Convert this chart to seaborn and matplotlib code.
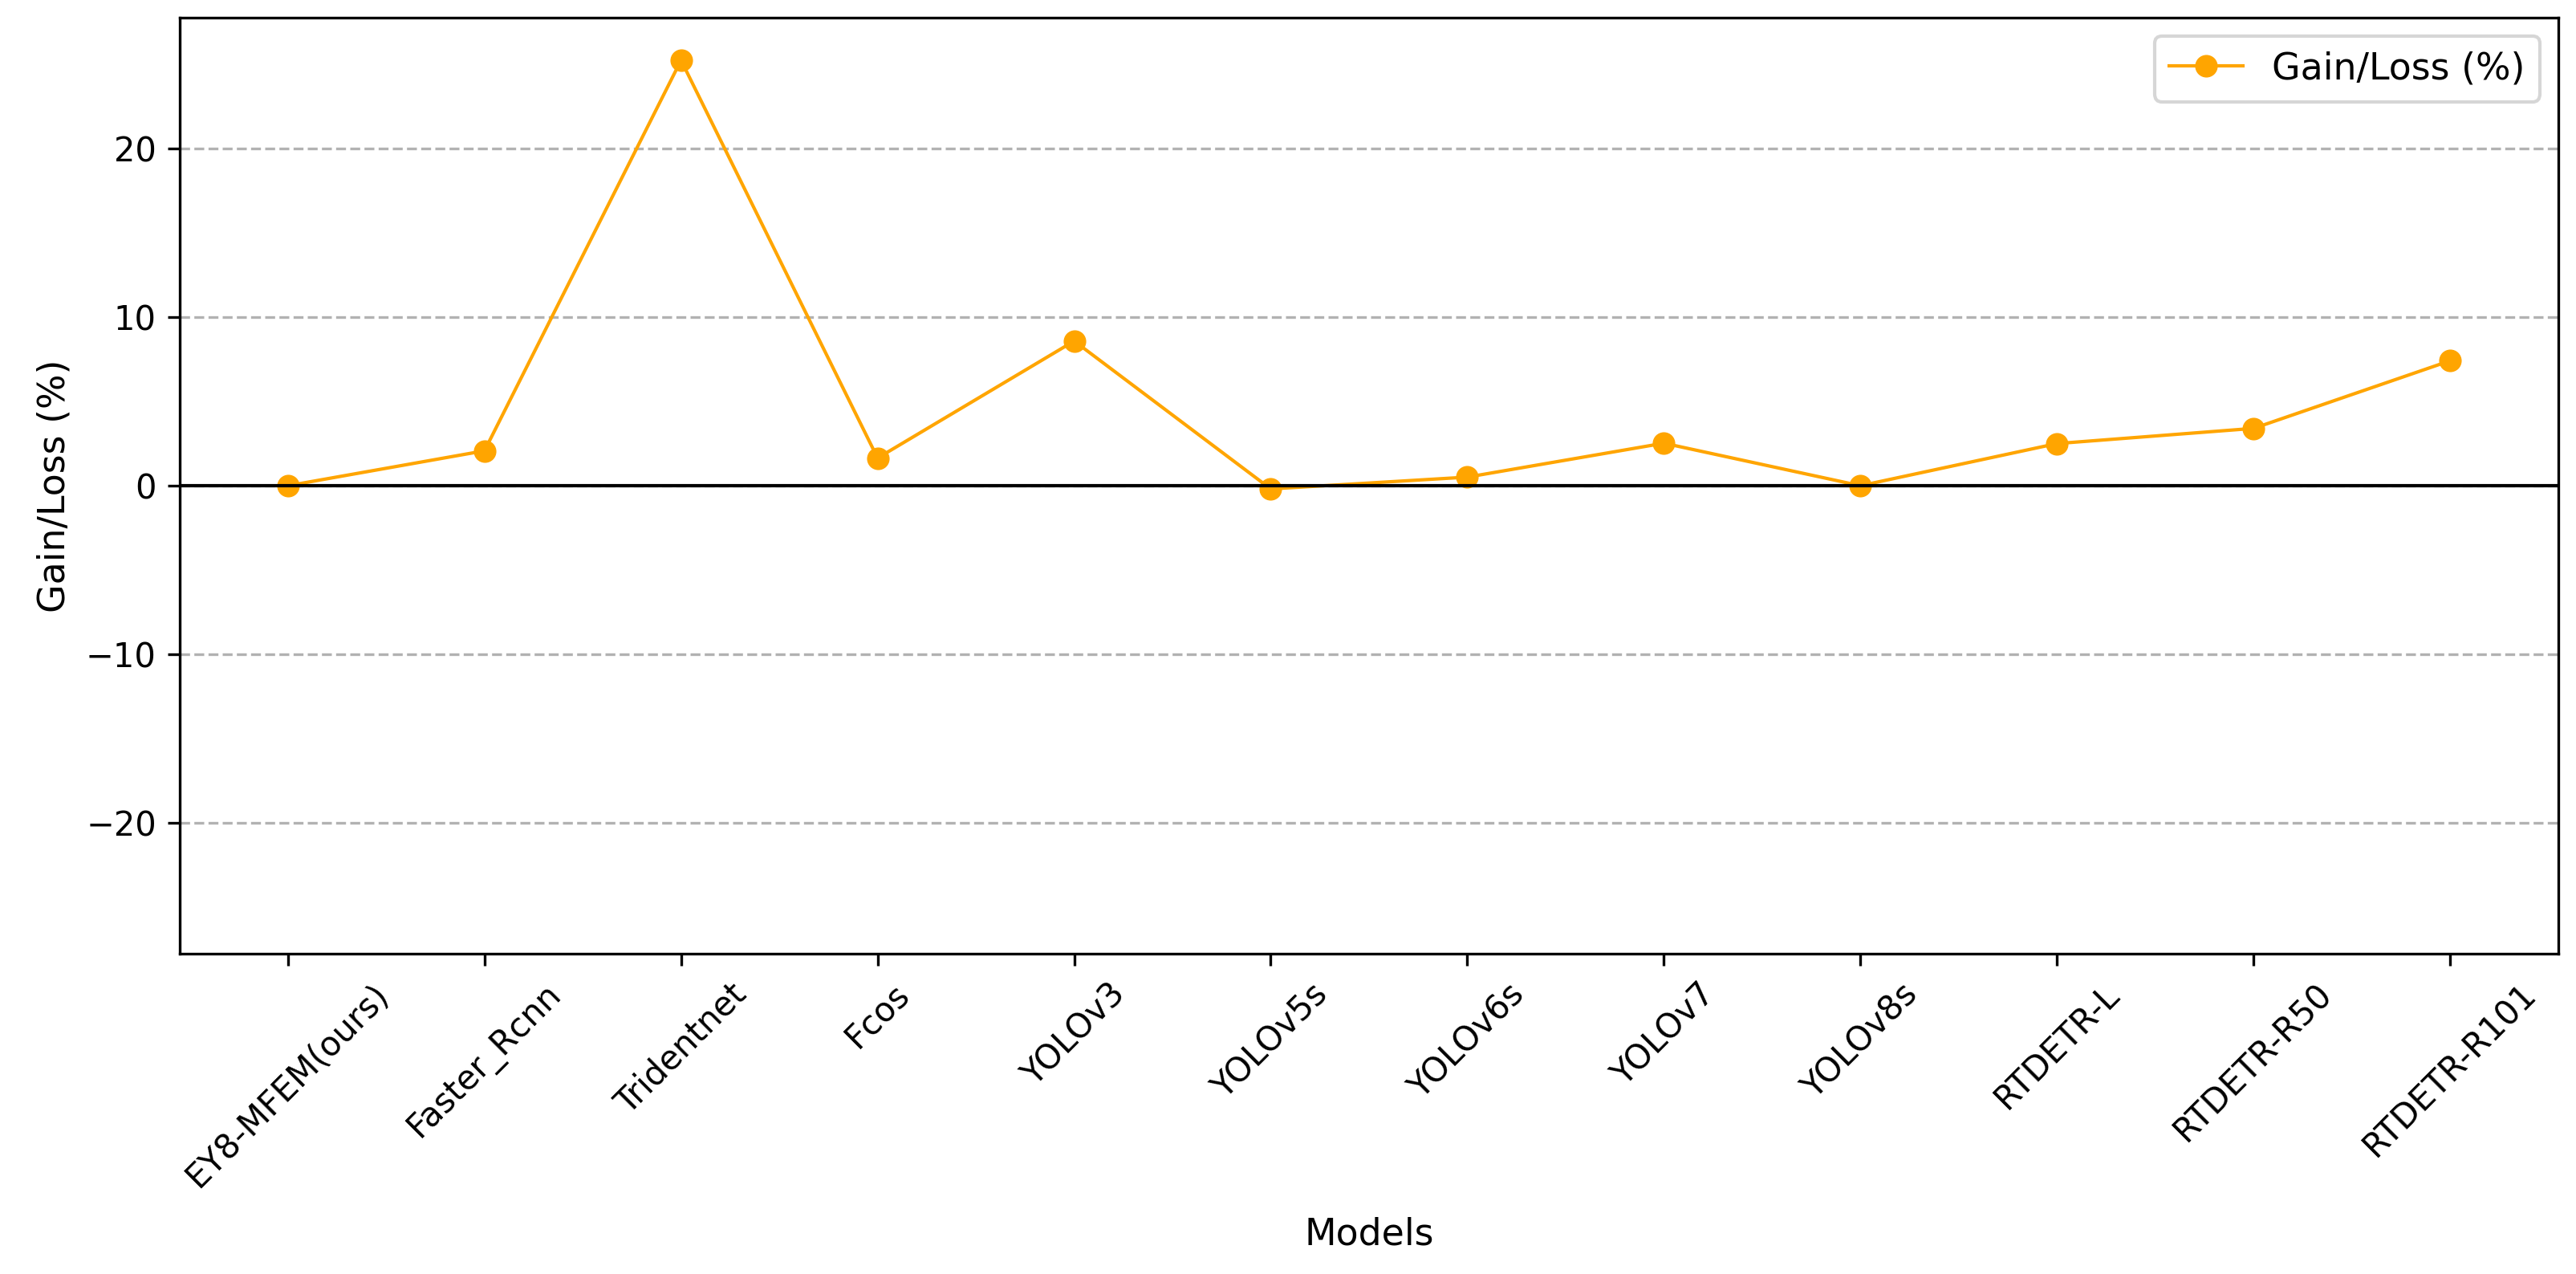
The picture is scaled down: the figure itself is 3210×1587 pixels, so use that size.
import matplotlib
matplotlib.use("Agg")
import matplotlib.pyplot as plt
import pandas as pd
import seaborn as sns

# values
models = [
    "EY8-MFEM(ours)", "Faster_Rcnn", "Tridentnet", "Fcos", "YOLOv3", "YOLOv5s",
    "YOLOv6s", "YOLOv7", "YOLOv8s", "RTDETR-L", "RTDETR-R50", "RTDETR-R101",
]
gain_loss = [0.0, 2.07, 25.23, 1.64, 8.58, -0.19, 0.51, 2.52, 0.0, 2.5, 3.4, 7.41]

df = pd.DataFrame({"Models": models, "Gain/Loss (%)": gain_loss})

plt.rcParams["font.family"] = ["DejaVu Sans"]
plt.rcParams["font.size"] = 10

fig, ax = plt.subplots(figsize=(3210 / 300, 1587 / 300), dpi=300)
fig.subplots_adjust(left=0.0698, right=0.9931, top=0.9861, bottom=0.2514)

sns.lineplot(data=df, x="Models", y="Gain/Loss (%)", ax=ax, color="orange",
             marker="o", markersize=6, markeredgecolor="orange", linewidth=1,
             label="Gain/Loss (%)")
ax.axhline(0, color="black", linewidth=1)

top = max(abs(v) for v in gain_loss) * 1.1
ax.set_ylim(-top, top)
ax.set_yticks([-20, -10, 0, 10, 20])
ax.grid(axis="y", linestyle="--", color="gray", alpha=0.6, linewidth=0.8)
ax.set_axisbelow(True)

ax.set_xlabel("Models", fontsize=11, labelpad=7)
ax.set_ylabel("Gain/Loss (%)", fontsize=11)
plt.setp(ax.get_xticklabels(), rotation=45, ha="center")
ax.legend(loc="upper right", fontsize=11)

fig.savefig("out.png", dpi=300)
plt.close(fig)
